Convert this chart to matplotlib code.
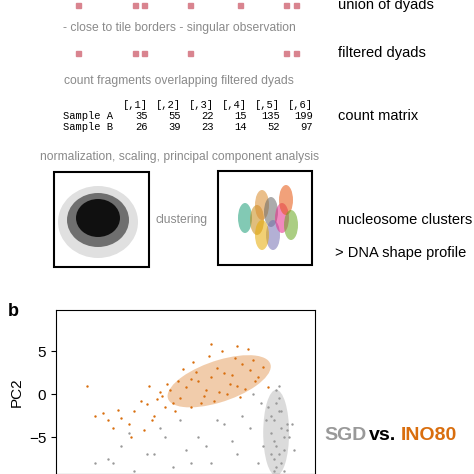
import matplotlib
matplotlib.use("Agg")
import matplotlib.pyplot as plt
from matplotlib.patches import Rectangle, Ellipse

plt.rcParams['font.family'] = ['Liberation Sans', 'DejaVu Sans']

dyad_union_x = [79, 136, 145, 191, 241, 287, 297]
dyad_filtered_x = [79, 136, 145, 191, 287, 297]
matrix_cols = ["[,1]", "[,2]", "[,3]", "[,4]", "[,5]", "[,6]"]
sample_a = [35, 55, 22, 15, 135, 199]
sample_b = [26, 39, 23, 14, 52, 97]

# panel b points (arbitrary PC1 units 0-100, PC2)
ino_x = [55,60,65,70,58,62,68,72,75,50,48,52,57,63,67,73,78,80,45,42,40,38,35,30,28,25,22,20,18,33,37,44,47,53,59,64,69,74,77,82,56,61,66,71,54,49,43,39,34,29,24,15,12,60,70,76,52,46,41,36]
ino_y = [1.5,2.0,2.5,1.0,0.5,3.0,2.2,3.5,2.8,0.8,-0.5,1.8,-0.2,0.2,1.2,0.6,2.0,3.2,-1.0,-1.5,0.2,-2.5,-1.2,-2.0,-3.5,-2.8,-4.0,-3.0,-2.2,-0.8,-3.0,0.5,1.5,3.8,4.5,5.0,4.2,5.2,1.5,0.8,-1.0,-0.8,0.0,-0.3,2.6,2.9,1.2,-0.6,-4.2,-5.0,-1.8,-2.5,0.9,5.8,5.6,4.0,-1.5,-2.0,-0.2,1.0]
sgd_x = [85,86,84,87,88,83,85,86,89,84,82,87,88,85,86,83,84,87,90,81,80,78,75,70,65,60,55,50,45,40,35,30,25,20,15,72,68,62,58,52,48,42,38,28,22,91,92,79,76,86,85,84,88,83,89]
sgd_y = [-1,-2,-3,-4,-5,-2.5,-6,-7,-3.5,-5.5,-1.5,-8,-6.5,-8.5,-0.5,-4.5,-7.5,-2,-5,-3,-6,-8,-4,-7,-3.5,-8,-5,-6.5,-8.5,-4,-7,-9,-6,-7.5,-8,-2.5,-5.5,-3,-6,-8,-3,-5,-7,-4.5,-8,-3.5,-6.5,-1,0,1,0.5,-9,-9,-7,-4.2]

fig = plt.figure(figsize=(4.74, 4.74), dpi=100)
bg = fig.add_axes([0, 0, 1, 1])
bg.set_xlim(0, 474); bg.set_ylim(474, 0); bg.axis("off")

pink = "#d9848f"
gray = "#8a8a8a"
for y, xs in [(5, dyad_union_x), (53, dyad_filtered_x)]:
    for x in xs:
        bg.add_patch(Rectangle((x - 2.5, y - 2.5), 5, 5, color=pink))
big = 10.5
bg.text(338, 5, "union of dyads", fontsize=big, va="center")
bg.text(338, 53, "filtered dyads", fontsize=big, va="center")
bg.text(63, 28, "- close to tile borders - singular observation", fontsize=8.7, color=gray, va="center")
bg.text(64, 81, "count fragments overlapping filtered dyads", fontsize=8.7, color=gray, va="center")
mono = dict(family="Liberation Mono", fontsize=7.6, va="center")
bg.text(63, 116, "Sample A", **mono)
bg.text(63, 127, "Sample B", **mono)
colx = [148, 181, 214, 247, 280, 313]
for i in range(6):
    bg.text(colx[i], 105, matrix_cols[i], ha="right", **mono)
    bg.text(colx[i], 116, str(sample_a[i]), ha="right", **mono)
    bg.text(colx[i], 127, str(sample_b[i]), ha="right", **mono)
bg.text(338, 116, "count matrix", fontsize=big, va="center")
bg.text(40, 157, "normalization, scaling, principal component analysis", fontsize=8.7, color=gray, va="center")

bg.add_patch(Rectangle((54, 172), 95, 95, fill=False, lw=1.5, color="black"))
bg.add_patch(Rectangle((218, 171), 94, 94, fill=False, lw=1.5, color="black"))
bg.add_patch(Ellipse((98, 222), 80, 72, color="black", alpha=0.12, lw=0))
bg.add_patch(Ellipse((98, 220), 62, 54, color="black", alpha=0.5, lw=0))
bg.add_patch(Ellipse((98, 218), 44, 38, color="black", alpha=0.85, lw=0))
cl = [(245, 218, "#1b9e77"), (257, 220, "#c78a12"), (262, 205, "#d98b2b"), (271, 212, "#666666"),
      (273, 235, "#7570b3"), (282, 218, "#e7298a"), (286, 200, "#e6550d"), (291, 225, "#66a61e"), (262, 235, "#e6ab02")]
for x, y, c in cl:
    bg.add_patch(Ellipse((x, y), 14, 30, color=c, alpha=0.55, lw=0))
bg.text(156, 220, "clustering", fontsize=8.7, color=gray, va="center")
bg.text(338, 220, "nucleosome clusters", fontsize=big, va="center")
bg.text(335, 253, "> DNA shape profile", fontsize=big, va="center")
bg.text(8, 311, "b", fontsize=13, fontweight="bold", va="center")
bg.text(324, 435, "SGD", fontsize=14, fontweight="bold", color="#999999", va="center")
bg.text(369, 435, "vs.", fontsize=14, fontweight="bold", color="black", va="center")
bg.text(401, 435, "INO80", fontsize=14, fontweight="bold", color="#d96e0e", va="center")

ax = fig.add_axes([56/474, 0, 259/474, 164/474])
ax.set_xlim(0, 100); ax.set_ylim(-9.3, 9.8)
ax.add_patch(Ellipse((63, 1.5), 40, 5, angle=5, color="#d96e0e", alpha=0.35, lw=0))
ax.add_patch(Ellipse((85, -4.5), 10, 10, color="#999999", alpha=0.35, lw=0))
ax.scatter(sgd_x, sgd_y, s=3, color="#999999", lw=0)
ax.scatter(ino_x, ino_y, s=3, color="#d96e0e", lw=0)
ax.set_xticks([])
ax.set_yticks([5, 0, -5])
ax.set_yticklabels(["5", "0", "\u22125"])
ax.tick_params(labelsize=11)
ax.set_ylabel("PC2", fontsize=11)
fig.savefig("out.png", dpi=100)
